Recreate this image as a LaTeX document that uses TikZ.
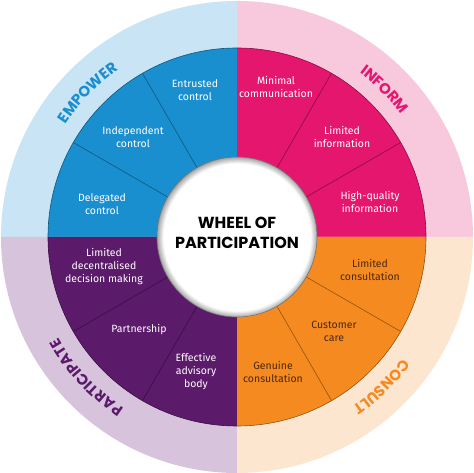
\documentclass[tikz,border=0pt]{standalone}
\usepackage{fontspec}
\setmainfont{Fira Sans}
\newfontfamily\headfont{Poppins}
\usetikzlibrary{decorations.text}

\definecolor{empDark}{HTML}{1A8FD0}
\definecolor{empLight}{HTML}{C9E5F5}
\definecolor{infDark}{HTML}{E5166E}
\definecolor{infLight}{HTML}{F8C8DD}
\definecolor{parDark}{HTML}{5B1A6A}
\definecolor{parLight}{HTML}{D8C3DD}
\definecolor{conDark}{HTML}{F58A20}
\definecolor{conLight}{HTML}{FDE6D0}
\definecolor{conText}{HTML}{4A2810}

% white hub with a soft rim
\pgfdeclareradialshading{hubrim}{\pgfpoint{0bp}{0bp}}{color(0bp)=(white); color(23bp)=(white); color(25bp)=(black!35); color(50bp)=(black!35)}

\tikzset{
	seglabel/.style={align=center, font=\fontsize{10.5}{13}\selectfont, text=white, inner sep=0pt},
	divider/.style={line width=0.6pt},
	ringword/.style={decorate, decoration={text along path, text align=center,
		text={|\headfont\bfseries\fontsize{15}{15}\selectfont|#1}}}
}

\begin{document}
\begin{tikzpicture}[x=1pt,y=1pt]
	\useasboundingbox (-237,-236) rectangle (237,237);

	% quadrants: outer band and inner ring
	\foreach \a/\lt/\dk in {90/empLight/empDark, 0/infLight/infDark, 180/parLight/parDark, 270/conLight/conDark}{
		\fill[\lt] (0,0) -- (\a:236) arc[start angle=\a, delta angle=90, radius=236] -- cycle;
		\fill[\dk] (0,0) -- (\a:189) arc[start angle=\a, delta angle=90, radius=189] -- cycle;
		\draw[\dk!60!black, divider] (\a:189) arc[start angle=\a, delta angle=90, radius=189];
		\draw[\dk!60!black, divider] ({\a+30}:80) -- ({\a+30}:189);
		\draw[\dk!60!black, divider] ({\a+60}:80) -- ({\a+60}:189);
	}

	% hub
	\shade[shading=hubrim] (0,0) circle (80);
	\draw[black!55, line width=0.6pt] (0,0) circle (80);
	\node[align=center, font=\headfont\bfseries\fontsize{16}{20}\selectfont] (hub) at (0,4) {WHEEL OF\\PARTICIPATION};

	% ring words
	\path[ringword=EMPOWER, decoration={text color=empDark}] (176:205) arc[start angle=176, end angle=96, radius=205];
	\path[ringword=INFORM, decoration={text color=infDark}] (85:205) arc[start angle=85, end angle=5, radius=205];
	\path[ringword=PARTICIPATE, decoration={text color=parDark}] (263:205) arc[start angle=263, end angle=183, radius=205];
	\path[ringword=CONSULT, decoration={text color=conDark}] (354:205) arc[start angle=354, end angle=274, radius=205];

	% empower
	\node[seglabel] (entrusted) at (-42,147) {Entrusted\\control};
	\node[seglabel] (independent) at (-104,100) {Independent\\control};
	\node[seglabel] (delegated) at (-135,33) {Delegated\\control};
	% inform
	\node[seglabel] (minimal) at (39,150) {Minimal\\communication};
	\node[seglabel] (limitedinfo) at (105,100) {Limited\\information};
	\node[seglabel] (highquality) at (133,35) {High-quality\\information};
	% participate
	\node[seglabel] (decentral) at (-133,-30) {Limited\\decentralised\\decision making};
	\node[seglabel] (partnership) at (-98,-93) {Partnership};
	\node[seglabel] (advisory) at (-41,-135) {Effective\\advisory\\body};
	% consult
	\node[seglabel, text=conText] (limitedcons) at (133,-33) {Limited\\consultation};
	\node[seglabel, text=conText] (customer) at (97,-94) {Customer\\care};
	\node[seglabel, text=conText] (genuine) at (36,-135) {Genuine\\consultation};
\end{tikzpicture}
\end{document}
